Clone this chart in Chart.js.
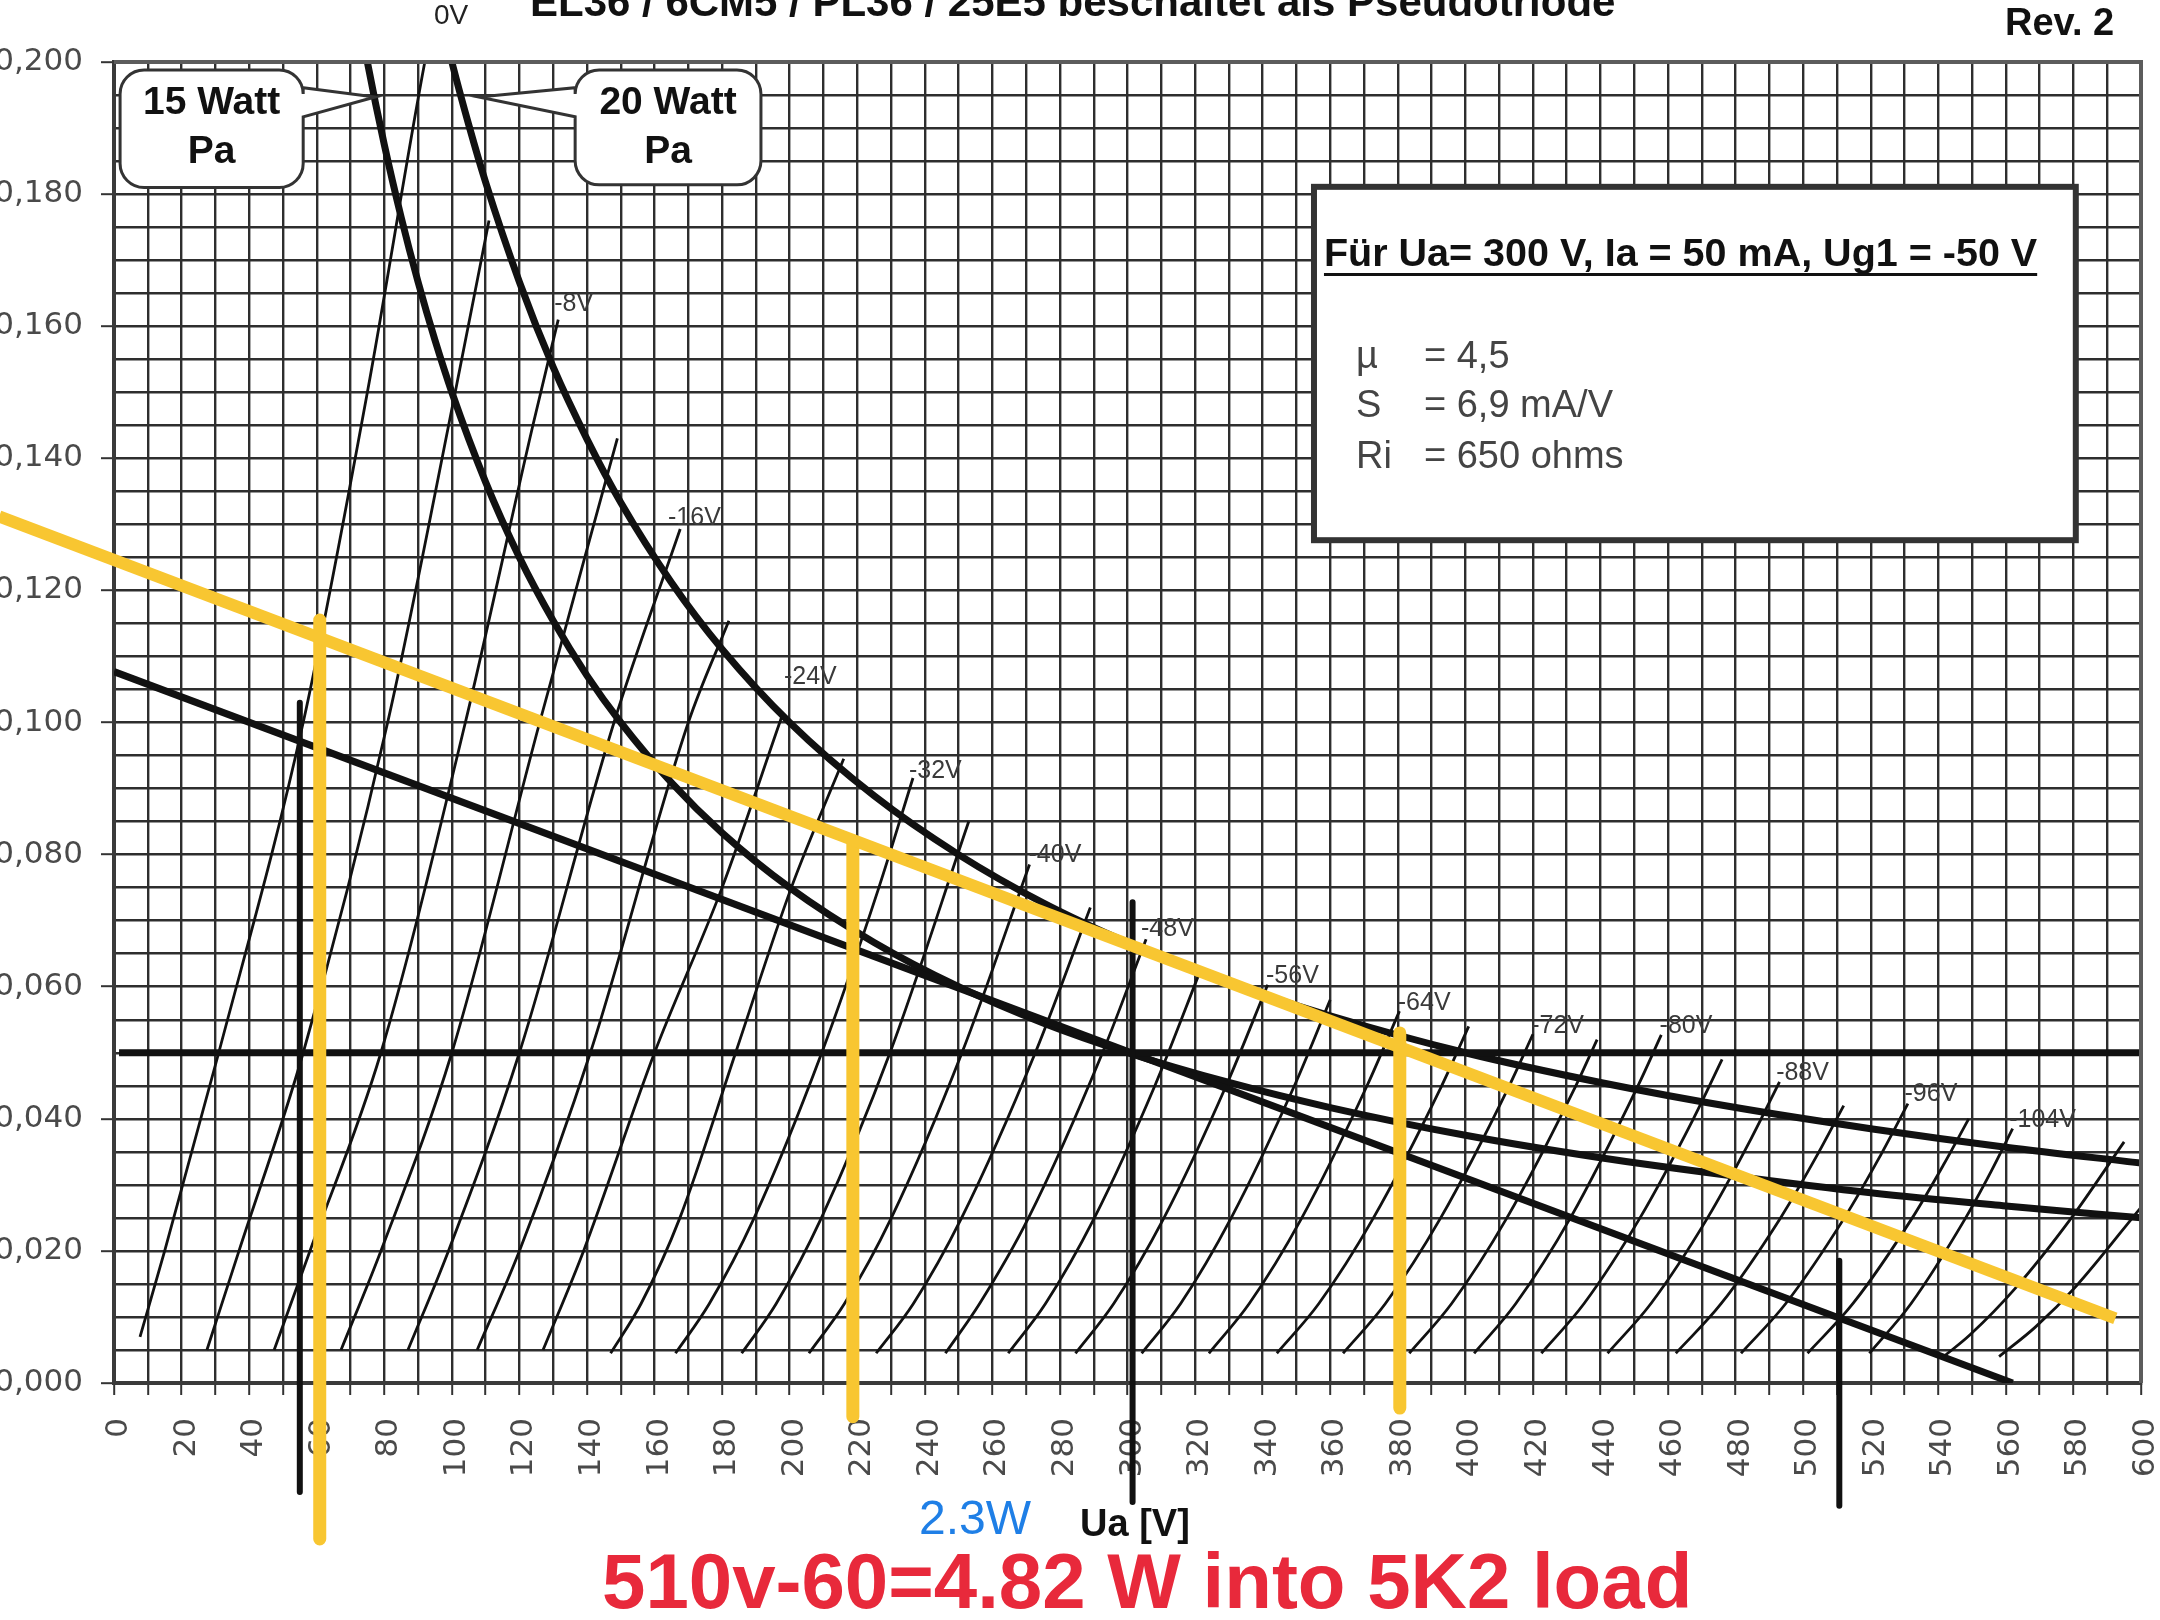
<!DOCTYPE html>
<html><head><meta charset="utf-8">
<script src="https://cdn.jsdelivr.net/npm/chart.js@4.4.1/dist/chart.umd.min.js"></script>
<style>
html,body{margin:0;padding:0;background:#fff;}
#wrap{position:relative;width:2160px;height:1620px;overflow:hidden;background:#fff;}
#c{position:absolute;left:0;top:0;}
.t{position:absolute;white-space:nowrap;font-family:"Liberation Sans",Arial,sans-serif;line-height:1;margin:0;}
</style></head><body>
<div id="wrap"><canvas id="c" width="2160" height="1620"></canvas></div>
<script>
// ---------------- DATA ----------------
const yTickLabels = ['0,000','0,020','0,040','0,060','0,080','0,100','0,120','0,140','0,160','0,180','0,200'];
const xTickLabelStep = 20;

// grid voltage of every curve (V)
const ug1Values = [0,-4,-8,-12,-16,-20,-24,-28,-32,-36,-40,-44,-48,-52,-56,-60,-64,-68,-72,-76,-80,-84,-88,-92,-96,-100,-104,-108,-112];
// anode voltage (V) along each curve
const curveUa = [
  [7.7,15,31,56,75,92,96],
  [27.5,37,56,81,101,111],
  [47.4,58,79,104,124,131.5],
  [67.2,79,100,126,149],
  [87,99,120,148,167.6],
  [107.5,120,141,170,182],
  [127,139,160,180,197.6],
  [147,156,167.5,184,200.5,216],
  [166.2,176.2,189.5,209.5,226.4,236.5],
  [185.8,196,209.4,229.7,253],
  [205.7,216.2,230.1,251,271],
  [225.6,236.6,250.9,272.7,289],
  [246.1,256.2,270.7,292.6,305.5],
  [264.7,275.7,290.2,308.1,322],
  [284.6,295.9,310.8,329.2,341.5],
  [304.2,315.7,330.7,349.4,360],
  [324.1,336,351.6,370.9,380.5],
  [344.2,356.6,372.8,393,401],
  [363.8,376.3,392.7,413,420],
  [383.4,395.9,412.3,432.7,439],
  [402.6,414.9,431.1,451.1,458],
  [422.5,435.1,451.7,467.5,476],
  [442.1,454.9,471.7,484.6,493],
  [462.3,475.7,493.3,503.6,512],
  [481.6,494.8,512.2,522.4,531],
  [501.3,514.7,532.3,541.5,549],
  [519.6,531.9,548.1,555.6,562],
  [541.6,549.4,562.9,579.4,595],
  [558,568.8,580.7,600]
];
// anode current (A) along each curve
const curveIa = [
  [0.007,0.02,0.05,0.1,0.15,0.2,0.21],
  [0.005,0.02,0.05,0.1,0.15,0.176],
  [0.005,0.02,0.05,0.1,0.145,0.161],
  [0.005,0.02,0.05,0.1,0.143],
  [0.005,0.02,0.05,0.1,0.1293],
  [0.005,0.02,0.05,0.1,0.1154],
  [0.005,0.02,0.05,0.075,0.1008],
  [0.0045,0.012,0.025,0.05,0.075,0.0945],
  [0.0045,0.012,0.025,0.05,0.075,0.0916],
  [0.0045,0.012,0.025,0.05,0.085],
  [0.0045,0.012,0.025,0.05,0.0785],
  [0.0045,0.012,0.025,0.05,0.072],
  [0.0045,0.012,0.025,0.05,0.0672],
  [0.0045,0.012,0.025,0.045,0.063],
  [0.0045,0.012,0.025,0.045,0.0603],
  [0.0045,0.012,0.025,0.045,0.058],
  [0.0045,0.012,0.025,0.045,0.0563],
  [0.0045,0.012,0.025,0.045,0.054],
  [0.0045,0.012,0.025,0.045,0.0528],
  [0.0045,0.012,0.025,0.045,0.052],
  [0.0045,0.012,0.025,0.045,0.0527],
  [0.0045,0.012,0.025,0.04,0.049],
  [0.0045,0.012,0.025,0.037,0.0456],
  [0.0045,0.012,0.025,0.034,0.042],
  [0.0045,0.012,0.025,0.034,0.0423],
  [0.0045,0.012,0.025,0.033,0.040],
  [0.0045,0.012,0.025,0.032,0.0385],
  [0.004,0.0073,0.0144,0.025,0.0365],
  [0.004,0.0085,0.0146,0.0266]
];
// curve labels (every second curve) and where they are written
const curveLabels = ['-8V','-16V','-24V','-32V','-40V','-48V','-56V','-64V','-72V','-80V','-88V','-96V','-104V'];
const curveLabelUa = [130.3,164,198.3,235.3,270.7,304,341,380,419.5,457.5,492,530,561];
const curveLabelIa = [0.1623,0.1299,0.1058,0.0916,0.0789,0.0676,0.0606,0.0565,0.053,0.053,0.0459,0.0426,0.0388];

// 15 W and 20 W anode dissipation limits
const pa15Ua = [70,75,80,85,90,95,100,110,120,130,140,150,165,180,200,225,250,275,300,330,360,400,440,480,520,560,600];
const pa15Ia = [0.2143,0.2,0.1875,0.1765,0.1667,0.1579,0.15,0.1364,0.125,0.1154,0.1071,0.1,0.0909,0.0833,0.075,0.0667,0.06,0.0545,0.05,0.0455,0.0417,0.0375,0.0341,0.0313,0.0288,0.0268,0.025];
const pa20Ua = [95,100,105,110,120,130,140,150,165,180,200,225,250,275,300,330,360,400,440,480,520,560,600];
const pa20Ia = [0.2105,0.2,0.1905,0.1818,0.1667,0.1538,0.1429,0.1333,0.1212,0.1111,0.1,0.0889,0.08,0.0727,0.0667,0.0606,0.0556,0.05,0.0455,0.0417,0.0385,0.0357,0.0333];

// 5K2 load line (black) and shifted 5K2 load line (yellow)
const loadUa = [0,562];
const loadIa = [0.1077,0];
const yellowLoadUa = [-34,592.4];
const yellowLoadIa = [0.1312,0.0098];

// quiescent current line
const quiescentUa = [1.5,600];
const quiescentIa = [0.05,0.05];

// black vertical markers: Ua, top Ia, bottom Ia
const blackMarkUa = [55,301.5,510.7];
const blackMarkTop = [0.103,0.0728,0.0185];
const blackMarkBottom = [-0.0165,-0.018,-0.0186];
// yellow vertical markers
const yellowMarkUa = [60.9,218.7,380.6];
const yellowMarkTop = [0.1155,0.0821,0.053];
const yellowMarkBottom = [-0.0236,-0.0051,-0.0038];

// ---------------- CHART ----------------
const BLACK = '#111111', YELLOW = '#f8c631';
const zip = (xs, ys) => xs.map((v, i) => ({x: v, y: ys[i]}));
const datasets = [];
datasets.push({data: zip(yellowLoadUa, yellowLoadIa), borderColor: YELLOW, borderWidth: 12, order: 0, clip: false, tension: 0});
yellowMarkUa.forEach((u, i) => datasets.push({data: zip([u, u], [yellowMarkTop[i], yellowMarkBottom[i]]), borderColor: YELLOW, borderWidth: 13, order: 0, clip: false, tension: 0}));
blackMarkUa.forEach((u, i) => datasets.push({data: zip([u, u], [blackMarkTop[i], blackMarkBottom[i]]), borderColor: BLACK, borderWidth: 6, order: 1, clip: false, tension: 0}));
datasets.push({data: zip(quiescentUa, quiescentIa), borderColor: BLACK, borderWidth: 7, order: 1, tension: 0});
datasets.push({data: zip(loadUa, loadIa), borderColor: BLACK, borderWidth: 7, order: 1, tension: 0});
datasets.push({data: zip(pa15Ua, pa15Ia), borderColor: BLACK, borderWidth: 7, order: 1, cubicInterpolationMode: 'monotone'});
datasets.push({data: zip(pa20Ua, pa20Ia), borderColor: BLACK, borderWidth: 7, order: 1, cubicInterpolationMode: 'monotone'});
curveUa.forEach((ua, i) => datasets.push({label: ug1Values[i] + 'V', data: zip(ua, curveIa[i]), borderColor: BLACK, borderWidth: 2.8, order: 2, cubicInterpolationMode: 'monotone'}));
datasets.forEach(d => { d.showLine = true; d.pointRadius = 0; d.fill = false; d.borderCapStyle = 'butt'; d.borderJoinStyle = 'round'; });

const bubble15 = {ua0: 1.8, ua1: 56, ia0: 0.181, ia1: 0.1988, tipUa: 77.3, tipIa: 0.1947, baseTop: 0.1961, baseBot: 0.1917, side: 'right'};
const bubble20 = {ua0: 136.5, ua1: 191.5, ia0: 0.1814, ia1: 0.1988, tipUa: 108, tipIa: 0.1947, baseTop: 0.1961, baseBot: 0.1917, side: 'left'};
const infoBox = {ua0: 355.2, ua1: 580.7, ia0: 0.1276, ia1: 0.1811};

function drawBubble(ctx, xs, ys, b) {
  const L = xs.getPixelForValue(b.ua0), R = xs.getPixelForValue(b.ua1);
  const T = ys.getPixelForValue(b.ia1), B = ys.getPixelForValue(b.ia0);
  const tx = xs.getPixelForValue(b.tipUa), ty = ys.getPixelForValue(b.tipIa);
  const p1 = ys.getPixelForValue(b.baseTop), p2 = ys.getPixelForValue(b.baseBot);
  const r = 24;
  ctx.beginPath();
  ctx.moveTo(L + r, T);
  ctx.lineTo(R - r, T);
  ctx.arcTo(R, T, R, T + r, r);
  if (b.side === 'right') { ctx.lineTo(R, p1); ctx.lineTo(tx, ty); ctx.lineTo(R, p2); }
  ctx.lineTo(R, B - r);
  ctx.arcTo(R, B, R - r, B, r);
  ctx.lineTo(L + r, B);
  ctx.arcTo(L, B, L, B - r, r);
  if (b.side === 'left') { ctx.lineTo(L, p2); ctx.lineTo(tx, ty); ctx.lineTo(L, p1); }
  ctx.lineTo(L, T + r);
  ctx.arcTo(L, T, L + r, T, r);
  ctx.closePath();
  ctx.fillStyle = '#fff'; ctx.fill();
  ctx.strokeStyle = '#333'; ctx.lineWidth = 3; ctx.stroke();
}

const overlay = {
  id: 'overlay',
  afterDatasetsDraw(chart) {
    const {ctx, chartArea: ca, scales: {x, y}} = chart;
    ctx.save();
    ctx.strokeStyle = '#5c5c5c'; ctx.lineWidth = 4;
    ctx.beginPath(); ctx.moveTo(ca.left, ca.top); ctx.lineTo(ca.right, ca.top); ctx.lineTo(ca.right, ca.bottom); ctx.stroke();
    drawBubble(ctx, x, y, bubble15);
    drawBubble(ctx, x, y, bubble20);
    const L = x.getPixelForValue(infoBox.ua0), R = x.getPixelForValue(infoBox.ua1);
    const T = y.getPixelForValue(infoBox.ia1), B = y.getPixelForValue(infoBox.ia0);
    ctx.fillStyle = '#fff'; ctx.fillRect(L, T, R - L, B - T);
    ctx.strokeStyle = '#333'; ctx.lineWidth = 6; ctx.strokeRect(L, T, R - L, B - T);
    ctx.restore();
  }
};

const tickFont = {family: 'DejaVu Sans', size: 31};
const chart = new Chart(document.getElementById('c'), {
  type: 'scatter',
  data: {datasets},
  options: {
    responsive: false, animation: false, devicePixelRatio: 1,
    layout: {padding: {top: 62, right: 19, left: 0, bottom: 0}},
    plugins: {legend: {display: false}, tooltip: {enabled: false}},
    scales: {
      x: {
        type: 'linear', min: 0, max: 600, position: 'bottom',
        ticks: {stepSize: 10, autoSkip: false, minRotation: 90, maxRotation: 90, padding: 23, labelOffset: 5, color: '#4a4a4a', font: tickFont,
          callback: v => (Math.round(v) % xTickLabelStep === 0 ? String(Math.round(v)) : '')},
        grid: {color: '#2e2e2e', lineWidth: 2.4, tickLength: 12, tickColor: '#333', tickWidth: 2},
        border: {color: '#3a3a3a', width: 4},
        afterFit: s => { s.height = 237; s.paddingLeft = 0; s.paddingRight = 0; }
      },
      y: {
        type: 'linear', min: 0, max: 0.2,
        ticks: {stepSize: 0.005, autoSkip: false, padding: 18, color: '#4a4a4a', font: tickFont,
          callback: v => { const m = Math.round(v * 1000); return m % 20 === 0 ? yTickLabels[m / 20] : ''; }},
        grid: {color: '#2e2e2e', lineWidth: 2.4, tickLength: 13, tickWidth: 2,
          tickColor: c => (Math.round(c.tick.value * 1000) % 20 === 0 ? '#333' : 'rgba(0,0,0,0)')},
        border: {color: '#3a3a3a', width: 4},
        afterFit: s => { s.width = 114; s.paddingTop = 0; s.paddingBottom = 0; }
      }
    }
  },
  plugins: [overlay]
});

// ---------------- TEXT ----------------
const wrap = document.getElementById('wrap');
function text(str, left, baseline, size, opts = {}) {
  const d = document.createElement('div');
  d.className = 't';
  d.textContent = str;
  d.style.fontSize = size + 'px';
  d.style.top = (baseline - 0.8465 * size) + 'px';
  d.style.left = left + 'px';
  if (opts.center) d.style.transform = 'translateX(-50%)';
  d.style.fontWeight = opts.bold ? 'bold' : 'normal';
  d.style.color = opts.color || '#111';
  if (opts.underline) {
    d.style.textDecoration = 'underline';
    d.style.textDecorationThickness = '3px';
    d.style.textUnderlineOffset = '7px';
    d.style.textDecorationSkipInk = 'none';
  }
  wrap.appendChild(d);
  return d;
}
const xs = chart.scales.x, ys = chart.scales.y;
const px = v => xs.getPixelForValue(v), py = a => ys.getPixelForValue(a);

text('EL36 / 6CM5 / PL36 / 25E5 beschaltet als Pseudotriode', 530, 17, 42, {bold: true});
text('0V', 434, 25, 28, {color: '#222'});
text('Rev. 2', 2005, 35, 38, {bold: true});
text('2.3W', 919, 1535, 48, {color: '#1f7fe6'});
text('Ua [V]', 1080, 1536, 38, {bold: true});
text('510v-60=4.82 W into 5K2 load', 602, 1608, 78, {bold: true, color: '#e8293b'});

// bubbles
[[bubble15, '15 Watt'], [bubble20, '20 Watt']].forEach(([b, s]) => {
  const cx = (px(b.ua0) + px(b.ua1)) / 2;
  text(s, cx, py(b.ia1) + 44, 39, {bold: true, center: true});
  text('Pa', cx, py(b.ia1) + 93, 39, {bold: true, center: true});
});
// info box
const bl = px(infoBox.ua0), bt = py(infoBox.ia1);
text('Für Ua= 300 V, Ia = 50 mA, Ug1 = -50 V', bl + 10, bt + 80, 39.5, {bold: true, underline: true});
[['µ', '= 4,5', 181], ['S', '= 6,9 mA/V', 230], ['Ri', '= 650 ohms', 281]].forEach(([a, b, dy]) => {
  text(a, bl + 42, bt + dy, 38, {color: '#444'});
  text(b, bl + 110, bt + dy, 38, {color: '#444'});
});
// curve labels
curveLabels.forEach((s, i) => text(s, px(curveLabelUa[i]), py(curveLabelIa[i]), 25, {color: '#3a3a3a'}));
</script>
</body></html>
